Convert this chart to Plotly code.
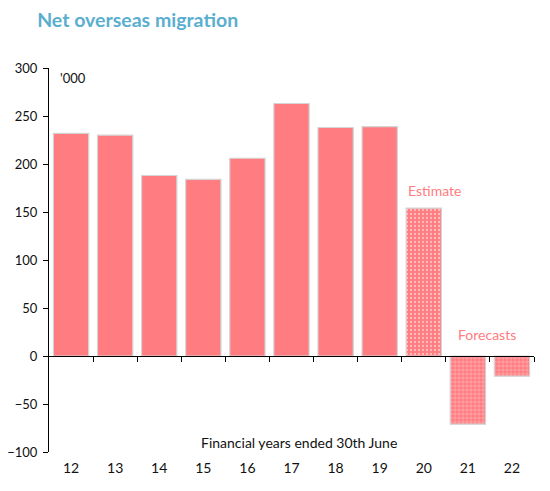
import plotly.graph_objects as go

years = ["12", "13", "14", "15", "16", "17", "18", "19", "20", "21", "22"]
values = [232, 230, 188, 184, 206, 263, 238, 239, 154, -71, -21]
patterns = ["", "", "", "", "", "", "", "", ".", "+", "+"]

BAR = "#ff7c80"
FONT = "Lato"

fig = go.Figure()
fig.add_trace(go.Bar(
    x=years, y=values,
    marker=dict(
        color=BAR,
        line=dict(color="#d4d4d4", width=1.2),
        pattern=dict(shape=patterns, fgcolor="#ffffff", size=4, solidity=0.25, fillmode="overlay"),
    ),
    width=0.8,
    showlegend=False,
))
# invisible trace for zero-line tick axis
fig.add_trace(go.Scatter(x=[-0.5, 10.5], y=[0, 0], xaxis="x2", mode="lines",
                         line=dict(width=0), hoverinfo="skip", showlegend=False))

fig.update_layout(
    width=550, height=491,
    margin=dict(l=41, r=24, t=60, b=47, autoexpand=False),
    plot_bgcolor="white", paper_bgcolor="white",
    font=dict(family=FONT, size=14, color="#111111"),
    bargap=0.2,
    title=dict(text="<b>Net overseas migration</b>", x=0.053, xanchor="left", y=0.976, yanchor="middle",
               font=dict(family=FONT, size=19.5, color="#5aaecf")),
    xaxis=dict(type="category", showline=False, ticks="", showgrid=False, zeroline=False,
               range=[-0.5, 10.5], tickfont=dict(size=14), ticklabelstandoff=6, automargin=False),
    xaxis2=dict(overlaying="x", anchor="free", position=0.25, range=[-0.5, 10.5],
                tickvals=[i + 0.5 for i in range(11)], ticks="outside", ticklen=5,
                tickcolor="black", showticklabels=False, showline=True, linecolor="black",
                linewidth=1.2, showgrid=False, zeroline=False),
    yaxis=dict(range=[-100, 300], dtick=50, ticks="outside", ticklen=5, tickcolor="black",
               showline=True, linecolor="black", linewidth=1.2, showgrid=False, zeroline=False,
               tickfont=dict(size=13), ticklabelstandoff=3, automargin=False),
)

fig.add_annotation(text="'000", xref="paper", yref="y", x=0.018, y=290, xanchor="left",
                   yanchor="middle", showarrow=False, font=dict(size=13))
fig.add_annotation(text="Estimate", xref="x", yref="y", x=8.24, y=172, xanchor="center",
                   yanchor="middle", showarrow=False, font=dict(size=14, color=BAR))
fig.add_annotation(text="Forecasts", xref="x", yref="y", x=9.44, y=22, xanchor="center",
                   yanchor="middle", showarrow=False, font=dict(size=14, color=BAR))
fig.add_annotation(text="Financial years ended 30th June", xref="x", yref="y", x=5.18, y=-90,
                   xanchor="center", yanchor="middle", showarrow=False, font=dict(size=14))

fig.write_html("out.html")
